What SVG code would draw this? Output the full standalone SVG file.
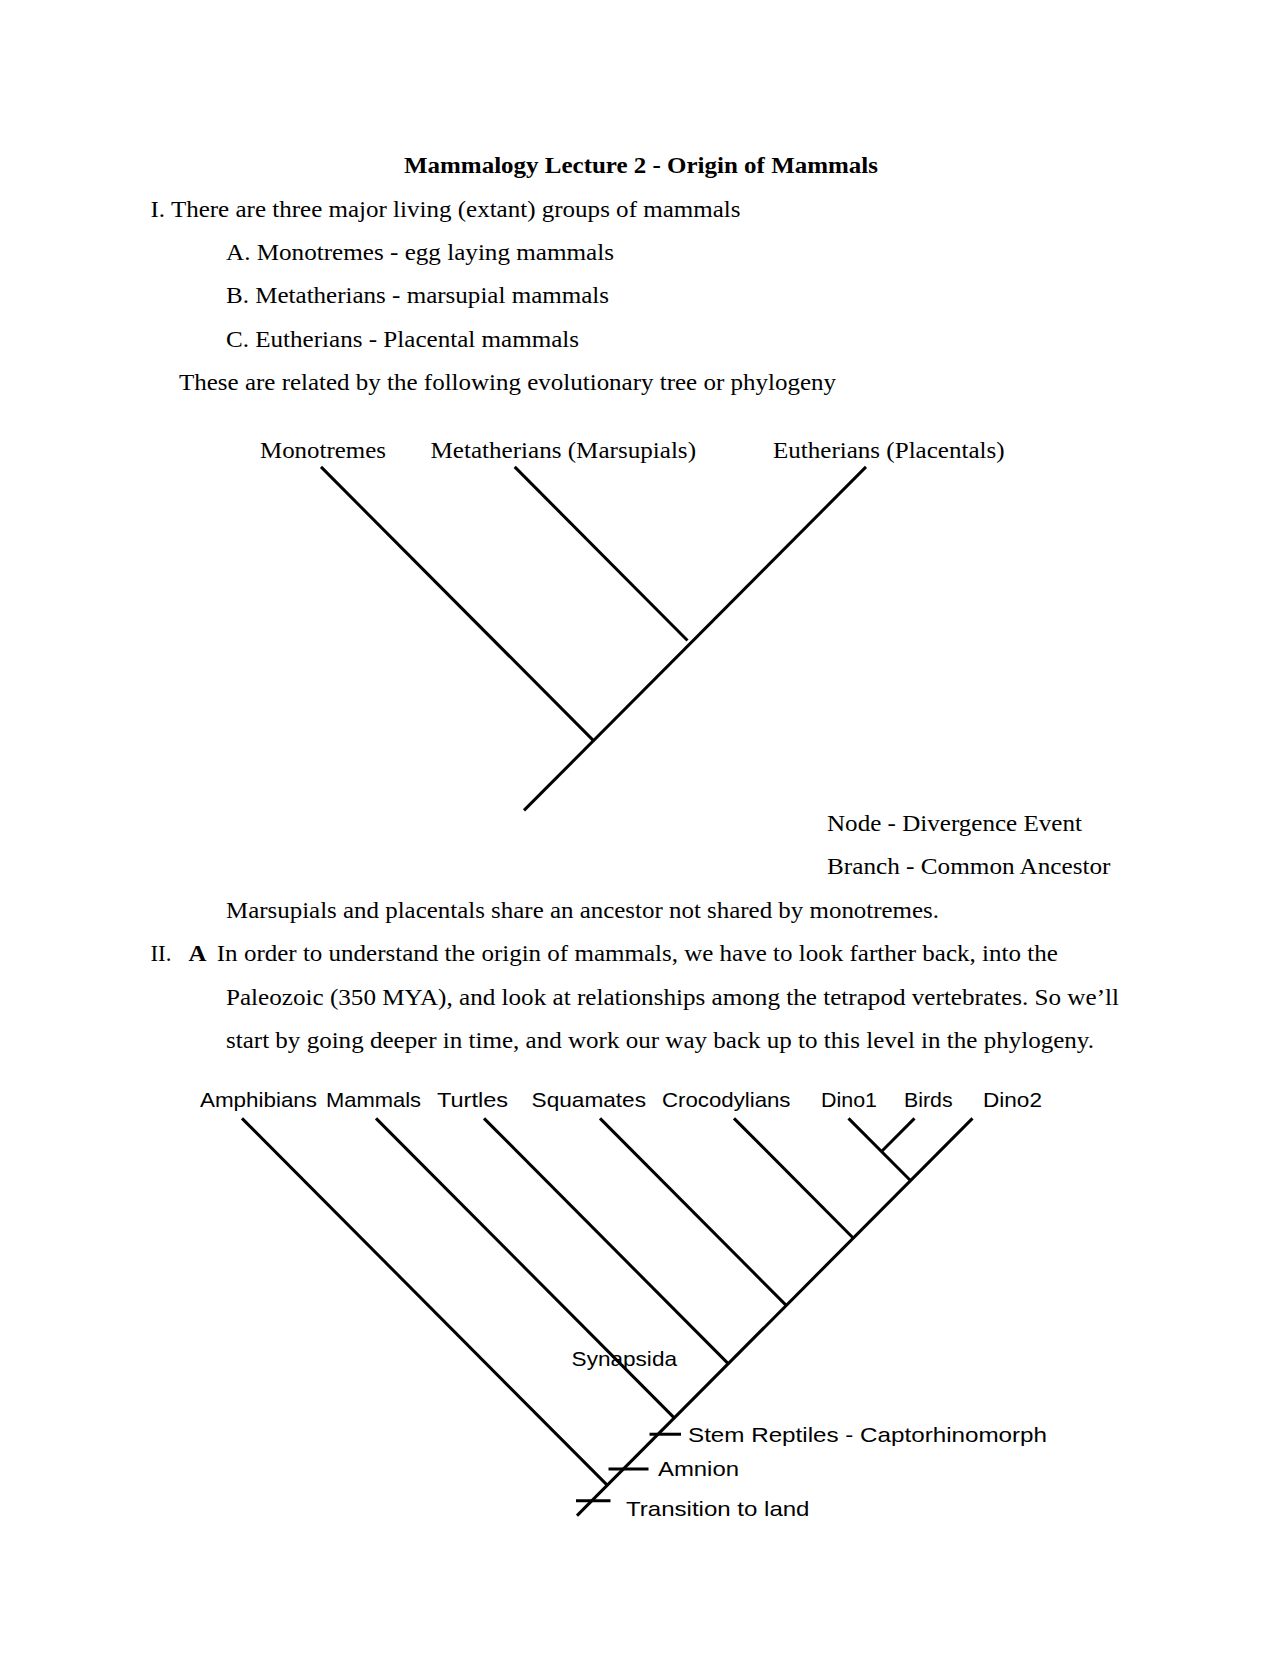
<svg xmlns="http://www.w3.org/2000/svg" width="1280" height="1656" viewBox="0 0 1280 1656">
<style>
.body{font-family:"Liberation Serif","Times New Roman",serif;font-size:24px;fill:#000}
.bold{font-weight:bold}
.sans{font-family:"Liberation Sans",Arial,sans-serif;font-size:20px;fill:#000}
.br{stroke:#000;stroke-width:3;fill:none}
</style>
<rect x="0" y="0" width="1280" height="1656" fill="#fff"/>
<g id="page" transform="matrix(1 0 0 1.0045 0 -0.7)">
<g id="text-body">
<text class="body bold" x="404" y="173" textLength="474" lengthAdjust="spacingAndGlyphs">Mammalogy Lecture 2 - Origin of Mammals</text>
<text class="body" x="150.5" y="216.4" textLength="590" lengthAdjust="spacingAndGlyphs">I. There are three major living (extant) groups of mammals</text>
<text class="body" x="226" y="259.6" textLength="388" lengthAdjust="spacingAndGlyphs">A. Monotremes - egg laying mammals</text>
<text class="body" x="226" y="302.8" textLength="383" lengthAdjust="spacingAndGlyphs">B. Metatherians - marsupial mammals</text>
<text class="body" x="226" y="346" textLength="353" lengthAdjust="spacingAndGlyphs">C. Eutherians - Placental mammals</text>
<text class="body" x="179" y="389.2" textLength="657" lengthAdjust="spacingAndGlyphs">These are related by the following evolutionary tree or phylogeny</text>
<text class="body" x="827" y="828" textLength="255" lengthAdjust="spacingAndGlyphs">Node - Divergence Event</text>
<text class="body" x="827" y="871.2" textLength="283.5" lengthAdjust="spacingAndGlyphs">Branch - Common Ancestor</text>
<text class="body" x="226" y="914.4" textLength="713" lengthAdjust="spacingAndGlyphs">Marsupials and placentals share an ancestor not shared by monotremes.</text>
<text class="body" x="150.5" y="957.6" textLength="21" lengthAdjust="spacingAndGlyphs">II.</text>
<text class="body bold" x="188.4" y="957.6" textLength="18" lengthAdjust="spacingAndGlyphs">A</text>
<text class="body" x="216.8" y="957.6" textLength="841" lengthAdjust="spacingAndGlyphs">In order to understand the origin of mammals, we have to look farther back, into the</text>
<text class="body" x="226" y="1000.8" textLength="893" lengthAdjust="spacingAndGlyphs">Paleozoic (350 MYA), and look at relationships among the tetrapod vertebrates. So we’ll</text>
<text class="body" x="226" y="1044" textLength="868" lengthAdjust="spacingAndGlyphs">start by going deeper in time, and work our way back up to this level in the phylogeny.</text>
</g>
<g id="tree1-labels">
<g id="t1-monotremes"><text class="body" x="260" y="457" textLength="126" lengthAdjust="spacingAndGlyphs">Monotremes</text></g>
<g id="t1-metatherians"><text class="body" x="430.5" y="457" textLength="265.5" lengthAdjust="spacingAndGlyphs">Metatherians (Marsupials)</text></g>
<g id="t1-eutherians"><text class="body" x="773" y="457" textLength="231.6" lengthAdjust="spacingAndGlyphs">Eutherians (Placentals)</text></g>
</g>
<g id="tree2-labels">
<g id="t2-amphibians"><text class="sans" x="200" y="1103" textLength="117" lengthAdjust="spacingAndGlyphs">Amphibians</text></g>
<g id="t2-mammals"><text class="sans" x="326" y="1103" textLength="95" lengthAdjust="spacingAndGlyphs">Mammals</text></g>
<g id="t2-turtles"><text class="sans" x="437" y="1103" textLength="71" lengthAdjust="spacingAndGlyphs">Turtles</text></g>
<g id="t2-squamates"><text class="sans" x="531.6" y="1103" textLength="114.4" lengthAdjust="spacingAndGlyphs">Squamates</text></g>
<g id="t2-crocodylians"><text class="sans" x="662" y="1103" textLength="128.5" lengthAdjust="spacingAndGlyphs">Crocodylians</text></g>
<g id="t2-dino1"><text class="sans" x="821" y="1103" textLength="56" lengthAdjust="spacingAndGlyphs">Dino1</text></g>
<g id="t2-birds"><text class="sans" x="904" y="1103" textLength="48.6" lengthAdjust="spacingAndGlyphs">Birds</text></g>
<g id="t2-dino2"><text class="sans" x="983" y="1103" textLength="59" lengthAdjust="spacingAndGlyphs">Dino2</text></g>
<g id="t2-synapsida"><text class="sans" x="571.6" y="1361" textLength="105.4" lengthAdjust="spacingAndGlyphs">Synapsida</text></g>
<g id="t2-stem"><text class="sans" x="688" y="1436" textLength="359" lengthAdjust="spacingAndGlyphs">Stem Reptiles - Captorhinomorph</text></g>
<g id="t2-amnion"><text class="sans" x="658" y="1470.5" textLength="81" lengthAdjust="spacingAndGlyphs">Amnion</text></g>
<g id="t2-transition"><text class="sans" x="626" y="1509.5" textLength="183.5" lengthAdjust="spacingAndGlyphs">Transition to land</text></g>
</g>
<g id="connectors">
<line class="br" x1="866" y1="465.5" x2="524" y2="807.5"/>
<line class="br" x1="321" y1="465.5" x2="593.5" y2="738"/>
<line class="br" x1="514.7" y1="465.5" x2="687.5" y2="638.3"/>
<line class="br" x1="972.5" y1="1114" x2="577" y2="1509.5"/>
<line class="br" x1="242" y1="1114" x2="607.2" y2="1479.2"/>
<line class="br" x1="376" y1="1114" x2="674" y2="1412"/>
<line class="br" x1="484" y1="1114" x2="728.2" y2="1358.2"/>
<line class="br" x1="600" y1="1114" x2="786.2" y2="1300.2"/>
<line class="br" x1="734" y1="1114" x2="853.2" y2="1233.2"/>
<line class="br" x1="848.5" y1="1114" x2="910.7" y2="1176.2"/>
<line class="br" x1="914.5" y1="1114" x2="881.5" y2="1147"/>
<line class="br" x1="649.5" y1="1428.5" x2="681" y2="1428.5"/>
<line class="br" x1="608.5" y1="1463" x2="648.5" y2="1463"/>
<line class="br" x1="576" y1="1494.7" x2="610.5" y2="1494.7"/>
</g>
</g>
</svg>
